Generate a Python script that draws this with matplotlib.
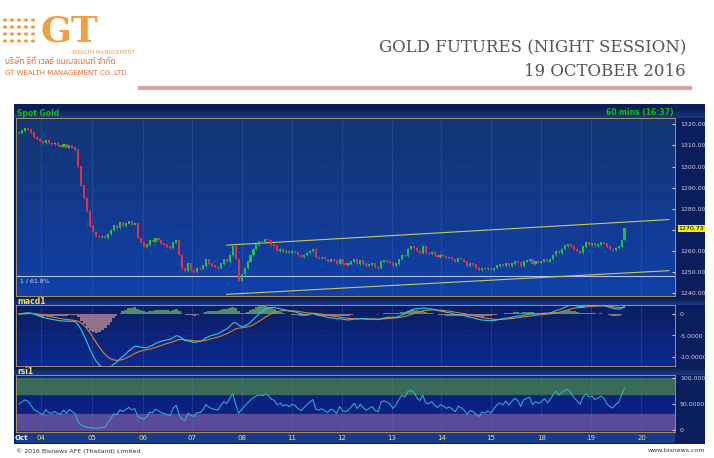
import matplotlib
matplotlib.use("Agg")
import matplotlib.pyplot as plt
import numpy as np

closes = [1316,1317,1318,1317.5,1316,1314,1313,
 1312,1311,1312.5,1311,1310.5,1311,1310,1309.5,1310.5,1309,1310,1309,1308,
 1300,1291,1285,1279,1272,1269,
 1267,1266.5,1267,1266,1268,1270,
 1272,1271,1273.5,1272,1273,1274,1272.5,1273,
 1266,1264,1262,1263,1265,1264.5,
 1266,1265,1263.5,1263,1262,1261.5,1264,
 1265,1258,1252,1250.5,1254,1251,
 1250,1252,1251.5,1253,1256,1254,
 1253,1252.5,1252,1254,1256,1255,1258,
 1262,1256,1246,1249,1252,1255,
 1258,1261,1263,1264.5,1264,1265.5,
 1265,1263,1262.5,1260,1261,1259.5,
 1260,1259,1260,1259.5,1258,1257,1258,
 1259,1260,1261,1257,1256.5,1257,1256,
 1255,1256,1255.5,1254,1256,1254,1253.5,
 1254,1255,1256,1254,1255.5,1254,1253,
 1253.5,1254,1252.5,1252,1255,1255.5,1255,
 1254.5,1253,1254,1256,1258,1257.5,
 1261,1262,1261.5,1260,1259,1262,
 1259,1258.5,1259.5,1258,1257,1258,1257.5,
 1256.5,1257,1256,1255,1256.5,1256,1255,
 1253,1254,1253.5,1252,1251,1252,1251.5,
 1252,1251,1252,1253,1253.5,1253,1254,
 1253,1254,1255,1254.5,1253,1255,1255.5,
 1256,1254,1255,1254.5,1255,1256,1255,
 1256,1258,1260,1259,1261,1262.5,1263,
 1262,1261,1260,1259,1262,1264,
 1263,1263.5,1262.5,1263,1264,1263.5,1262,
 1261,1260.5,1261.5,1262,1265,
 1270.73]
date_labels = ["Oct","04","05","06","07","08","11","12","13","14","15","18","19","20"]
date_pos = [0.7,7.3,24.7,41.7,58.3,75.3,92,108.7,125.7,142.3,159,176,192.7,209.7]
price_ticks = [1240,1250,1260,1270,1280,1290,1300,1310,1320]
channel_x = [70,219]
upper_y = [1262.8,1274.9]
lower_y = [1239.5,1250.7]
fib_level = 1248.4

W,H = 714,458
fig = plt.figure(figsize=(W/100,H/100), dpi=100)
fig.patch.set_facecolor("white")
def box(x0,y0,x1,y1):
    return fig.add_axes([x0/W,1-y1/H,(x1-x0)/W,(y1-y0)/H])

bg = box(14,104,705,444); bg.set_axis_off()
bg.add_patch(plt.Rectangle((0,0),1,1,color="#0a1d5c",transform=bg.transAxes))

def grad(ax,c1,c2):
    g = np.linspace(0,1,100)[:,None]
    from matplotlib.colors import LinearSegmentedColormap
    cm = LinearSegmentedColormap.from_list("g",[c1,c2])
    ax.imshow(g,aspect="auto",cmap=cm,extent=[0,1,0,1],transform=ax.transAxes,zorder=0)

def header(y0,y1,text,color,rt=None):
    h = box(14,y0,705,y1); h.set_axis_off()
    grad(h,"#0a1a4a","#1c3a8a")
    h.text(0.005,0.5,text,color=color,fontsize=5.5,va="center",fontweight="bold")
    if rt: h.text(0.955,0.5,rt,color="#10c010",fontsize=5.5,va="center",ha="right",fontweight="bold")

header(108,118,"Spot Gold","#10c010","60 mins (16:37)")
header(297,305,"macd1","#f0e060")
header(367,375,"rsi1","#f0e060")

n = len(closes)
x = np.arange(n)
cl = np.array(closes)
op = np.r_[cl[0], cl[:-1]]

def style(ax):
    ax.set_xlim(-1,221)
    for s in ax.spines.values(): s.set_color("#c0a060"); s.set_linewidth(0.6)
    ax.tick_params(left=False,bottom=False,labelbottom=False,labelleft=False,right=True,labelright=True,
                   colors="#d0d0e0",labelsize=4.5,length=2,direction="in")
    for p in date_pos[1:]:
        ax.axvline(p,color="#4a6ab0",lw=0.4,alpha=0.6,zorder=1)

ax = box(16,118,675,296)
grad(ax,"#133572","#1040a8")
ax.set_ylim(1238.7,1323)
style(ax)
ax.set_yticks(price_ticks)
ax.set_yticklabels([f"{v:.2f}" if v!=1270 else "" for v in price_ticks])
for v in price_ticks:
    ax.axhline(v,color="#4a6ab0",lw=0.4,ls=(0,(1,6)),zorder=1)
up = cl>=op
col = np.where(up,"#20c040","#e03050")
ax.vlines(x,np.minimum(op,cl)-0.4,np.maximum(op,cl)+0.4,colors=col,lw=0.6,zorder=3)
ax.bar(x,np.abs(cl-op)+0.15,bottom=np.minimum(op,cl),width=0.7,color=col,zorder=4)
ax.axhline(fib_level,color="#b0c0f0",lw=0.8,zorder=2)
ax.text(0.5,fib_level-1.5,"1 / 61.8%",color="#d0d8f0",fontsize=4.5,va="top")
ax.plot(channel_x,upper_y,color="#c8c860",lw=0.8,zorder=2)
ax.plot(channel_x,lower_y,color="#c8c860",lw=0.8,zorder=2)
ax.text(1.005,(1270.73-1238.7)/(1323-1238.7),"1270.73",transform=ax.transAxes,fontsize=4.5,
        va="center",ha="left",bbox=dict(fc="#f0f000",ec="none",pad=0.5),zorder=5)

def ema(a,s,init=None):
    k=2/(s+1); out=np.empty_like(a,dtype=float); out[0]=a[0] if init is None else init
    for i in range(1,len(a)): out[i]=out[i-1]+k*(a[i]-out[i-1])
    return out
macd = ema(cl,12)-ema(cl,26)
sig = ema(macd,9)
hist = macd-sig
am = box(16,305,675,366)
grad(am,"#0a1e60","#0a2a90")
am.set_ylim(-12.1,2.1)
style(am)
am.set_yticks([0,-5,-10]); am.set_yticklabels(["0","-5.0000","-10.0000"])
am.axhline(-5,color="#4a6ab0",lw=0.4,ls=(0,(1,6)))
am.fill_between(x,0,hist,where=hist>=0,color="#5a9a6a",alpha=0.9,step="mid",lw=0)
am.fill_between(x,0,hist,where=hist<0,color="#a07a90",alpha=0.9,step="mid",lw=0)
am.plot(x,sig,color="#e08020",lw=0.8)
am.plot(x,macd,color="#30c8e8",lw=0.8)

d = np.diff(cl,prepend=cl[0])
g = np.where(d>0,d,0.0); l = np.where(d<0,-d,0.0)
ag = ema(g,15,init=0.8); al = ema(l,15,init=0.8)
rsi = 100-100/(1+ag/np.maximum(al,1e-9))
ar = box(16,375,675,432)
ar.set_facecolor("#0a2080")
ar.set_ylim(-3.8,105.8)
style(ar)
ar.axhspan(70,100,color="#3a6a5a",zorder=0)
ar.axhspan(0,30,color="#5a4a9a",zorder=0)
ar.set_yticks([0,50,100]); ar.set_yticklabels(["0","50.0000","100.0000"])
ar.plot(x,rsi,color="#30b8d0",lw=0.7)

ad = box(16,433,675,443)
ad.set_facecolor("#1a3a8a"); ad.set_xlim(-1,221); ad.set_ylim(0,1)
ad.set_xticks([]); ad.set_yticks([])
for s in ad.spines.values(): s.set_visible(False)
for lab,p in zip(date_labels,date_pos):
    ad.text(p,0.5,lab,color="#f0e060" if lab!="Oct" else "#ffffff",fontsize=5,va="center",ha="center",fontweight="bold" if lab=="Oct" else "normal")

fig.text(16/W,1-451/H,"© 2016 Bisnews AFE (Thailand) Limited",fontsize=4.5,va="center",color="#333")
fig.text(705/W,1-451/H,"www.bisnews.com",fontsize=4.5,va="center",ha="right",color="#333")

fig.text(686/W,1-48/H,"GOLD FUTURES (NIGHT SESSION)",fontsize=12,ha="right",va="center",color="#555",family="DejaVu Serif")
fig.text(686/W,1-72/H,"19 OCTOBER 2016",fontsize=12,ha="right",va="center",color="#555",family="DejaVu Serif")
fig.add_artist(plt.Line2D([140/W,690/W],[1-88/H,1-88/H],color="#e0a0a8",lw=3))
fig.text(40/W,1-32/H,"GT",fontsize=26,color="#f0a040",va="center",fontweight="bold",family="DejaVu Serif")
fig.text(72/W,1-52/H,"WEALTH MANAGEMENT",fontsize=4,color="#f0a040",va="center")
fig.text(5/W,1-62/H,"บริษัท จีที เวลธ์ แมเนจเมนท์ จำกัด",fontsize=6,color="#e07030",va="center",
         family=["Noto Sans Thai","Noto Sans","DejaVu Sans"])
fig.text(5/W,1-73/H,"GT WEALTH MANAGEMENT CO.,LTD.",fontsize=5,color="#e07030",va="center")
for i in range(4):
    for j in range(5):
        fig.add_artist(plt.Circle(((5+j*7)/W,1-(20+i*7)/H),0.002,color="#f0a040",transform=fig.transFigure))

fig.savefig("out.png",dpi=100)
